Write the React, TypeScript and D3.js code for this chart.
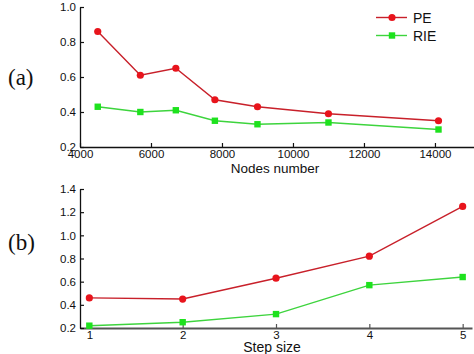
import React, { useRef, useEffect } from "react";
import * as d3 from "d3";

// panel (a): nodes number
const nodes = [4500, 5700, 6700, 7800, 9000, 11000, 14100];
const peNodes = [0.86, 0.61, 0.65, 0.47, 0.43, 0.39, 0.35];
const rieNodes = [0.43, 0.4, 0.41, 0.35, 0.33, 0.34, 0.3];

// panel (b): step size
const steps = [1, 2, 3, 4, 5];
const peSteps = [0.46, 0.45, 0.63, 0.82, 1.25];
const rieSteps = [0.22, 0.25, 0.32, 0.57, 0.64];

const aXTicks = [4000, 6000, 8000, 10000, 12000, 14000];
const aYTicks = [0.2, 0.4, 0.6, 0.8, 1.0];
const bYTicks = [0.2, 0.4, 0.6, 0.8, 1.0, 1.2, 1.4];

const RED = "#e8141c";
const RED_LINE = "#c8202a";
const GREEN = "#1ee21e";
const GREEN_LINE = "#3dd43d";

function App() {
  const canvas = useRef<SVGSVGElement>(null);

  useEffect(() => {
    const width = 474;
    const height = 354;
    const svg = d3.select(canvas.current).attr("width", width).attr("height", height);
    svg.selectAll("*").remove();

    const font = "Arial, 'Liberation Sans', sans-serif";

    function drawSeries(g, xs, ys, x, y, line, fill, square) {
      const pts = xs.map((d, i) => [x(d), y(ys[i])]);
      g.append("path")
        .attr("d", d3.line()(pts))
        .attr("fill", "none")
        .attr("stroke", line)
        .attr("stroke-width", 1.4);
      if (square) {
        g.selectAll(null)
          .data(pts)
          .join("rect")
          .attr("x", (d) => d[0] - 3.2)
          .attr("y", (d) => d[1] - 3.2)
          .attr("width", 6.4)
          .attr("height", 6.4)
          .attr("fill", fill);
      } else {
        g.selectAll(null)
          .data(pts)
          .join("circle")
          .attr("cx", (d) => d[0])
          .attr("cy", (d) => d[1])
          .attr("r", 3.6)
          .attr("fill", fill);
      }
    }

    function styleAxis(g, color, w) {
      g.selectAll("path").attr("stroke", color).attr("stroke-width", w);
      g.selectAll("line").attr("stroke", color).attr("stroke-width", 1.2);
      g.selectAll("text")
        .attr("fill", "#111")
        .attr("font-family", font)
        .attr("font-size", 11.5);
    }

    // ---- panel (a)
    const xa = d3.scaleLinear().domain([4000, 15100]).range([80, 474]);
    const ya = d3.scaleLinear().domain([0.2, 1.0]).range([147, 7]);

    const gax = svg.append("g").attr("transform", "translate(0,147)");
    gax.call(
      d3.axisBottom(xa).tickValues(aXTicks).tickFormat(d3.format("d"))
        .tickSizeInner(-4).tickSizeOuter(0).tickPadding(3)
    );
    styleAxis(gax, "#111", 1.3);
    const gay = svg.append("g").attr("transform", "translate(80,0)");
    gay.call(
      d3.axisLeft(ya).tickValues(aYTicks).tickFormat(d3.format(".1f"))
        .tickSizeInner(-4).tickSizeOuter(0).tickPadding(4)
    );
    styleAxis(gay, "#111", 1.3);

    const gA = svg.append("g");
    drawSeries(gA, nodes, peNodes, xa, ya, RED_LINE, RED, false);
    drawSeries(gA, nodes, rieNodes, xa, ya, GREEN_LINE, GREEN, true);

    svg.append("text")
      .attr("x", 275).attr("y", 173)
      .attr("text-anchor", "middle")
      .attr("font-family", font).attr("font-size", 13.5).attr("fill", "#111")
      .text("Nodes number");

    // legend
    const legend = [
      { name: "PE", line: RED_LINE, fill: RED, square: false, y: 17.5 },
      { name: "RIE", line: GREEN_LINE, fill: GREEN, square: true, y: 35.5 },
    ];
    legend.forEach((l) => {
      const g = svg.append("g");
      g.append("line")
        .attr("x1", 376).attr("x2", 407).attr("y1", l.y).attr("y2", l.y)
        .attr("stroke", l.line).attr("stroke-width", 1.4);
      if (l.square) {
        g.append("rect").attr("x", 392 - 3.2).attr("y", l.y - 3.2)
          .attr("width", 6.4).attr("height", 6.4).attr("fill", l.fill);
      } else {
        g.append("circle").attr("cx", 392).attr("cy", l.y).attr("r", 3.6).attr("fill", l.fill);
      }
      g.append("text")
        .attr("x", 413).attr("y", l.y + 5.2)
        .attr("font-family", font).attr("font-size", 14).attr("fill", "#111")
        .text(l.name);
    });

    // ---- panel (b)
    const xb = d3.scaleLinear().domain([0.9, 5.1]).range([80, 472]);
    const yb = d3.scaleLinear().domain([0.2, 1.4]).range([328, 189]);

    const gbx = svg.append("g").attr("transform", "translate(0,328)");
    gbx.call(
      d3.axisBottom(xb).tickValues(steps).tickFormat(d3.format("d"))
        .tickSizeInner(-4).tickSizeOuter(0).tickPadding(3)
    );
    styleAxis(gbx, "#555", 2);
    const gby = svg.append("g").attr("transform", "translate(80,0)");
    gby.call(
      d3.axisLeft(yb).tickValues(bYTicks).tickFormat(d3.format(".1f"))
        .tickSizeInner(-4).tickSizeOuter(0).tickPadding(4)
    );
    styleAxis(gby, "#111", 1.3);

    const gB = svg.append("g");
    drawSeries(gB, steps, peSteps, xb, yb, RED_LINE, RED, false);
    drawSeries(gB, steps, rieSteps, xb, yb, GREEN_LINE, GREEN, true);

    svg.append("text")
      .attr("x", 272).attr("y", 351.5)
      .attr("text-anchor", "middle")
      .attr("font-family", font).attr("font-size", 14).attr("fill", "#111")
      .text("Step size");

    // panel labels
    svg.append("text")
      .attr("x", 8).attr("y", 85)
      .attr("font-family", "'Liberation Serif', 'DejaVu Serif', serif")
      .attr("font-size", 23).attr("fill", "#111")
      .text("(a)");
    svg.append("text")
      .attr("x", 8).attr("y", 250)
      .attr("font-family", "'Liberation Serif', 'DejaVu Serif', serif")
      .attr("font-size", 23).attr("fill", "#111")
      .text("(b)");
  }, []);

  return (
    <div style={{ position: "absolute", left: 0, top: 0, background: "#fff" }}>
      <svg ref={canvas} style={{ display: "block" }} />
    </div>
  );
}

export default App;
